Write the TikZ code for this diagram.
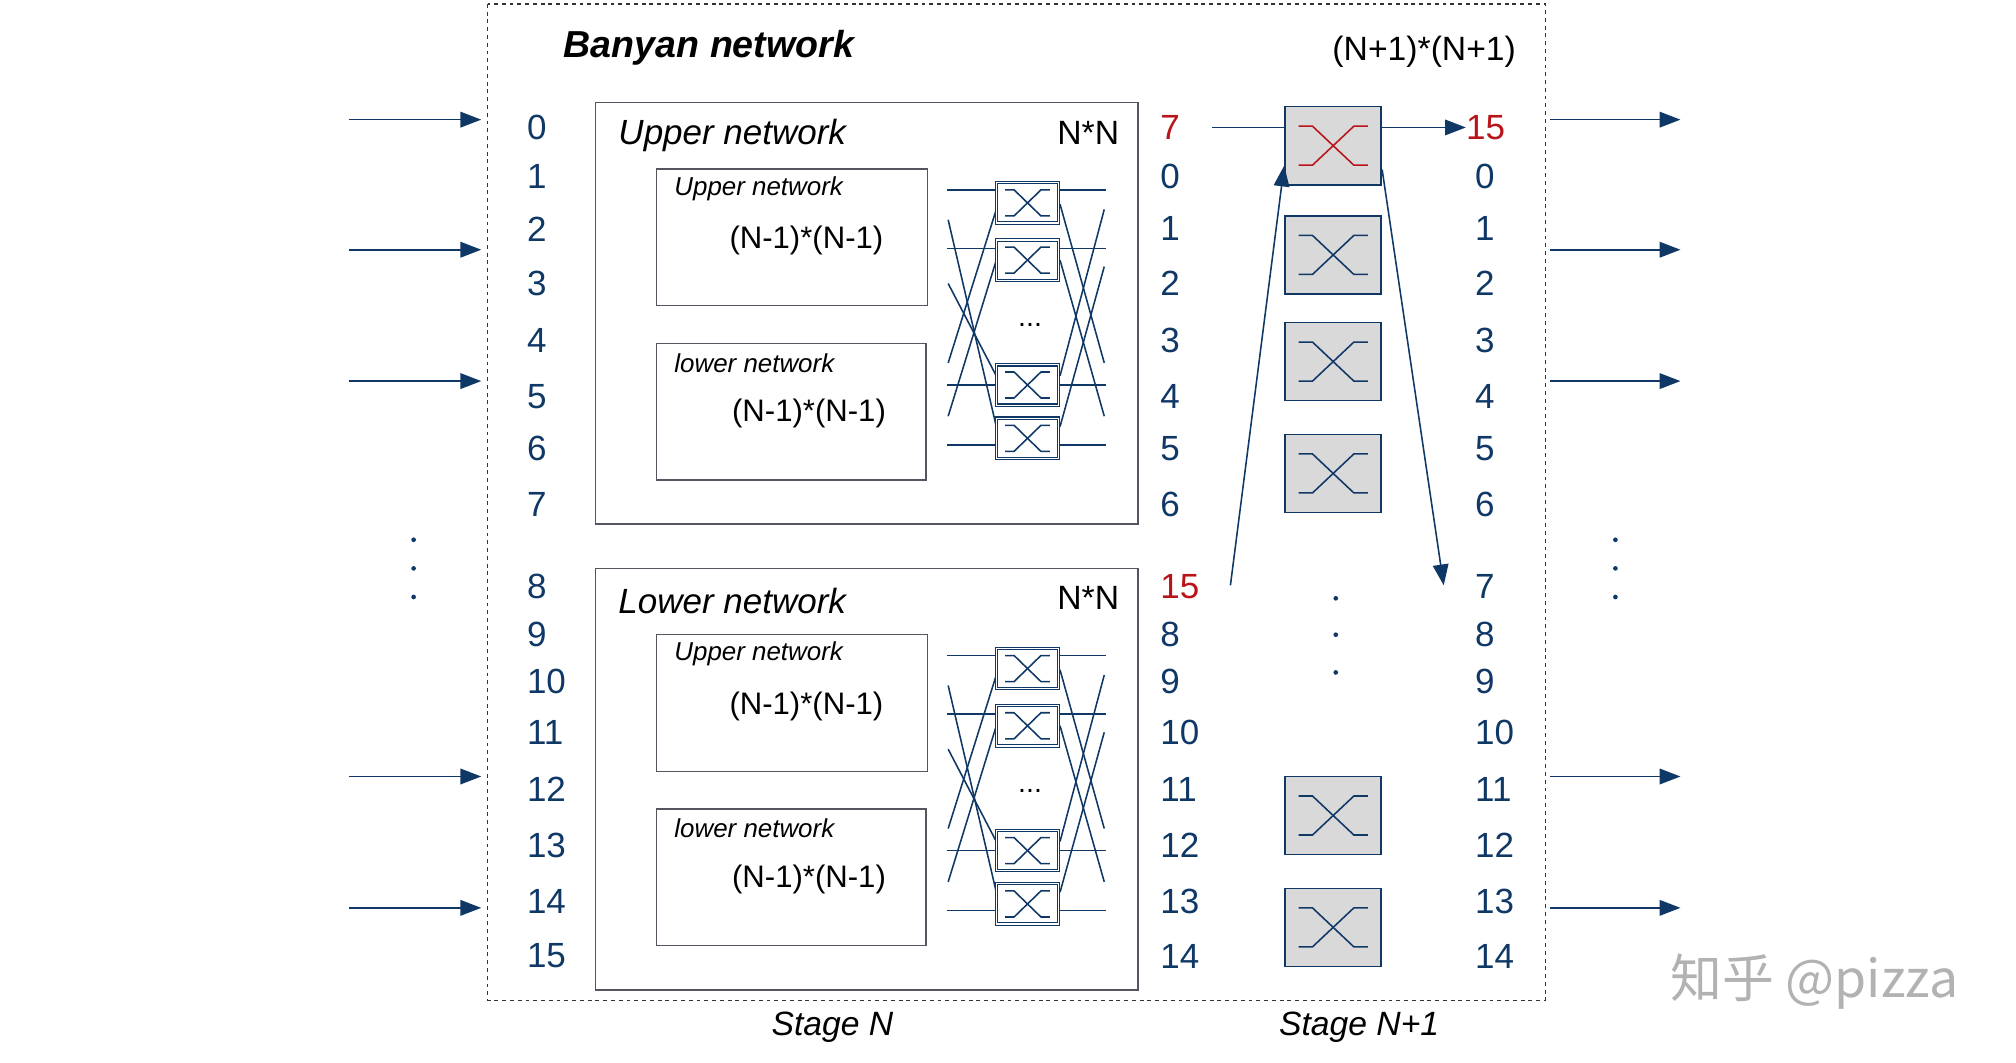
\documentclass[tikz,border=0pt]{standalone}
\usepackage{fontspec}
\setmainfont{Liberation Sans}
\newfontfamily\cjk{Noto Sans CJK SC}
\usetikzlibrary{arrows.meta,calc}
\definecolor{navy}{RGB}{16,56,102}
\definecolor{dred}{RGB}{185,20,25}
\definecolor{boxg}{RGB}{85,85,95}
\definecolor{swfill}{RGB}{217,217,217}
\tikzset{
 num/.style={text=navy,font=\fontsize{27}{27}\selectfont,anchor=west,inner sep=0},
 rnum/.style={num,text=dred},
 netbox/.style={draw=boxg,line width=1.1bp},
 inbox/.style={draw=boxg,line width=1bp},
 wire/.style={draw=navy,line width=1.2bp},
 arr/.style={draw=navy,line width=1.2bp,-{Triangle[length=16bp,width=12bp]}},
 bigsw/.style={draw=navy,fill=swfill,line width=1.3bp,minimum width=74bp,minimum height=60bp,inner sep=0},
 smsw/.style={draw=navy,double=white,double distance=1bp,line width=0.8bp,minimum width=48bp,minimum height=31bp,inner sep=0},
}
\newcommand\xsym[4]{%
 \begin{scope}[shift={(#1)}]
 \draw[#4,line width=1.2bp] (-0.72*#2,-0.5*#3) -- (-0.43*#2,-0.5*#3) -- (0.43*#2,0.5*#3) -- (0.72*#2,0.5*#3);
 \draw[#4,line width=1.2bp] (-0.72*#2,0.5*#3) -- (-0.43*#2,0.5*#3) -- (0.43*#2,-0.5*#3) -- (0.72*#2,-0.5*#3);
 \end{scope}}
\begin{document}
\begin{tikzpicture}[x=1bp,y=-1bp]
\useasboundingbox (0,0) rectangle (1550,817);
% outer
\draw[dashed,line width=1bp,draw=black!80] (375,3) rectangle (1188,769);
\node[anchor=west,font=\fontsize{29}{29}\selectfont\bfseries\itshape] (title) at (430,37) {Banyan network};
\node[font=\fontsize{26}{26}\selectfont] (nn) at (1095,40) {(N+1)*(N+1)};
% side arrows
\foreach \y [count=\i] in {92,192,293,597,698}{
  \coordinate (la\i) at (268,\y); \coordinate (lb\i) at (370,\y);
  \draw[arr] (la\i) -- (lb\i);
  \coordinate (ra\i) at (1192,\y); \coordinate (rb\i) at (1292,\y);
  \draw[arr] (ra\i) -- (rb\i);
}
\foreach \x in {318,1242}{\foreach \y in {415,437,459}{\fill[navy] (\x,\y) circle (1.8bp);}}
% left numbers
\foreach \t/\y [count=\i] in {0/98,1/136,2/176,3/218,4/262,5/305,6/345,7/388,8/451,9/488,10/524,11/563,12/607,13/650,14/693,15/735}{
  \node[num] (ln\i) at (405,\y) {\t};
}
% two stage-N subnetworks
\foreach \name/\dy in {Upper/0,Lower/358}{
 \begin{scope}[yshift=-\dy bp]
  \draw[netbox] (458,79) rectangle (875,403);
  \node[anchor=west,font=\fontsize{27}{27}\selectfont\itshape] (t\name) at (472,104) {\name\ network};
  \node[anchor=east,font=\fontsize{26}{26}\selectfont] (nn\name) at (864,102) {N*N};
  \draw[inbox] (505,130) rectangle (713,235);
  \node[anchor=west,font=\fontsize{20}{20}\selectfont\itshape] (ua\name) at (515,145) {Upper network};
  \node[font=\fontsize{24}{24}\selectfont] (ub\name) at (620,185) {(N-1)*(N-1)};
  \draw[inbox] (505,264) rectangle (712,369);
  \node[anchor=west,font=\fontsize{20}{20}\selectfont\itshape] (la\name) at (515,279) {lower network};
  \node[font=\fontsize{24}{24}\selectfont] (lb\name) at (622,318) {(N-1)*(N-1)};
  % butterfly wires
  \foreach \y in {146,191,296,342}{
    \draw[wire] (728,\y) -- (766,\y); \draw[wire] (814,\y) -- (850,\y);}
  \draw[wire] (729,169) -- (766,328);
  \draw[wire] (729,218) -- (766,289);
  \draw[wire] (729,279) -- (766,161);
  \draw[wire] (729,320) -- (766,200);
  \draw[wire] (815,157) -- (849,279);
  \draw[wire] (815,200) -- (849,320);
  \draw[wire] (849,161) -- (815,289);
  \draw[wire] (849,205) -- (815,328);
  \foreach \y [count=\k] in {156,200,296,337}{
    \node[smsw] (s\name\k) at (790,\y) {};
    \xsym{s\name\k.center}{24}{20}{navy}
  }
  \node[font=\fontsize{22}{22}\selectfont] (dots\name) at (792,250) {...};
 \end{scope}
}
% stage N outputs
\node[rnum] (o1) at (892,98) {7};
\foreach \t/\y [count=\i] in {0/136,1/176,2/218,3/262,4/305,5/345,6/388}{\node[num] (ou\i) at (892,\y) {\t};}
\node[rnum] (o2) at (892,451) {15};
\foreach \t/\y [count=\i] in {8/488,9/524,10/563,11/607,12/650,13/693,14/735}{\node[num] (ol\i) at (892,\y) {\t};}
% stage N+1 switches
\foreach \y [count=\k] in {112,196,278,364,627,713}{\node[bigsw] (b\k) at (1025,\y) {};}
\xsym{b1.center}{37}{30}{dred}
\foreach \k in {2,...,6}{\xsym{b\k.center}{37}{30}{navy}}
\foreach \y in {460,488,517}{\fill[navy] (1027,\y) circle (1.8bp);}
% stage N+1 outputs
\node[rnum] (p1) at (1127,98) {15};
\foreach \t/\y [count=\i] in {0/136,1/176,2/218,3/262,4/305,5/345,6/388,7/451,8/488,9/524,10/563,11/607,12/650,13/693,14/735}{\node[num] (pn\i) at (1134,\y) {\t};}
% connectors around first switch
\coordinate (in7) at (932,98);
\coordinate (in15) at (946,450);
\coordinate (out7) at (1110,450);
\draw[wire] (in7) -- (b1.west |- in7);
\draw[arr] (b1.east |- in7) -- (p1.west);
\draw[arr] (in15) -- ($(b1.south west)!0.5!(b1.west)$);
\draw[arr] ($(b1.south east)!0.4!(b1.east)$) -- (out7);
% stage labels
\node[font=\fontsize{26}{26}\selectfont\itshape] (sN) at (640,790) {Stage N};
\node[font=\fontsize{26}{26}\selectfont\itshape] (sN1) at (1045,790) {Stage N+1};
\node[text=black!30,font=\fontsize{40}{40}\cjk] (wm) at (1395,755) {知乎 @pizza};
\end{tikzpicture}
\end{document}
